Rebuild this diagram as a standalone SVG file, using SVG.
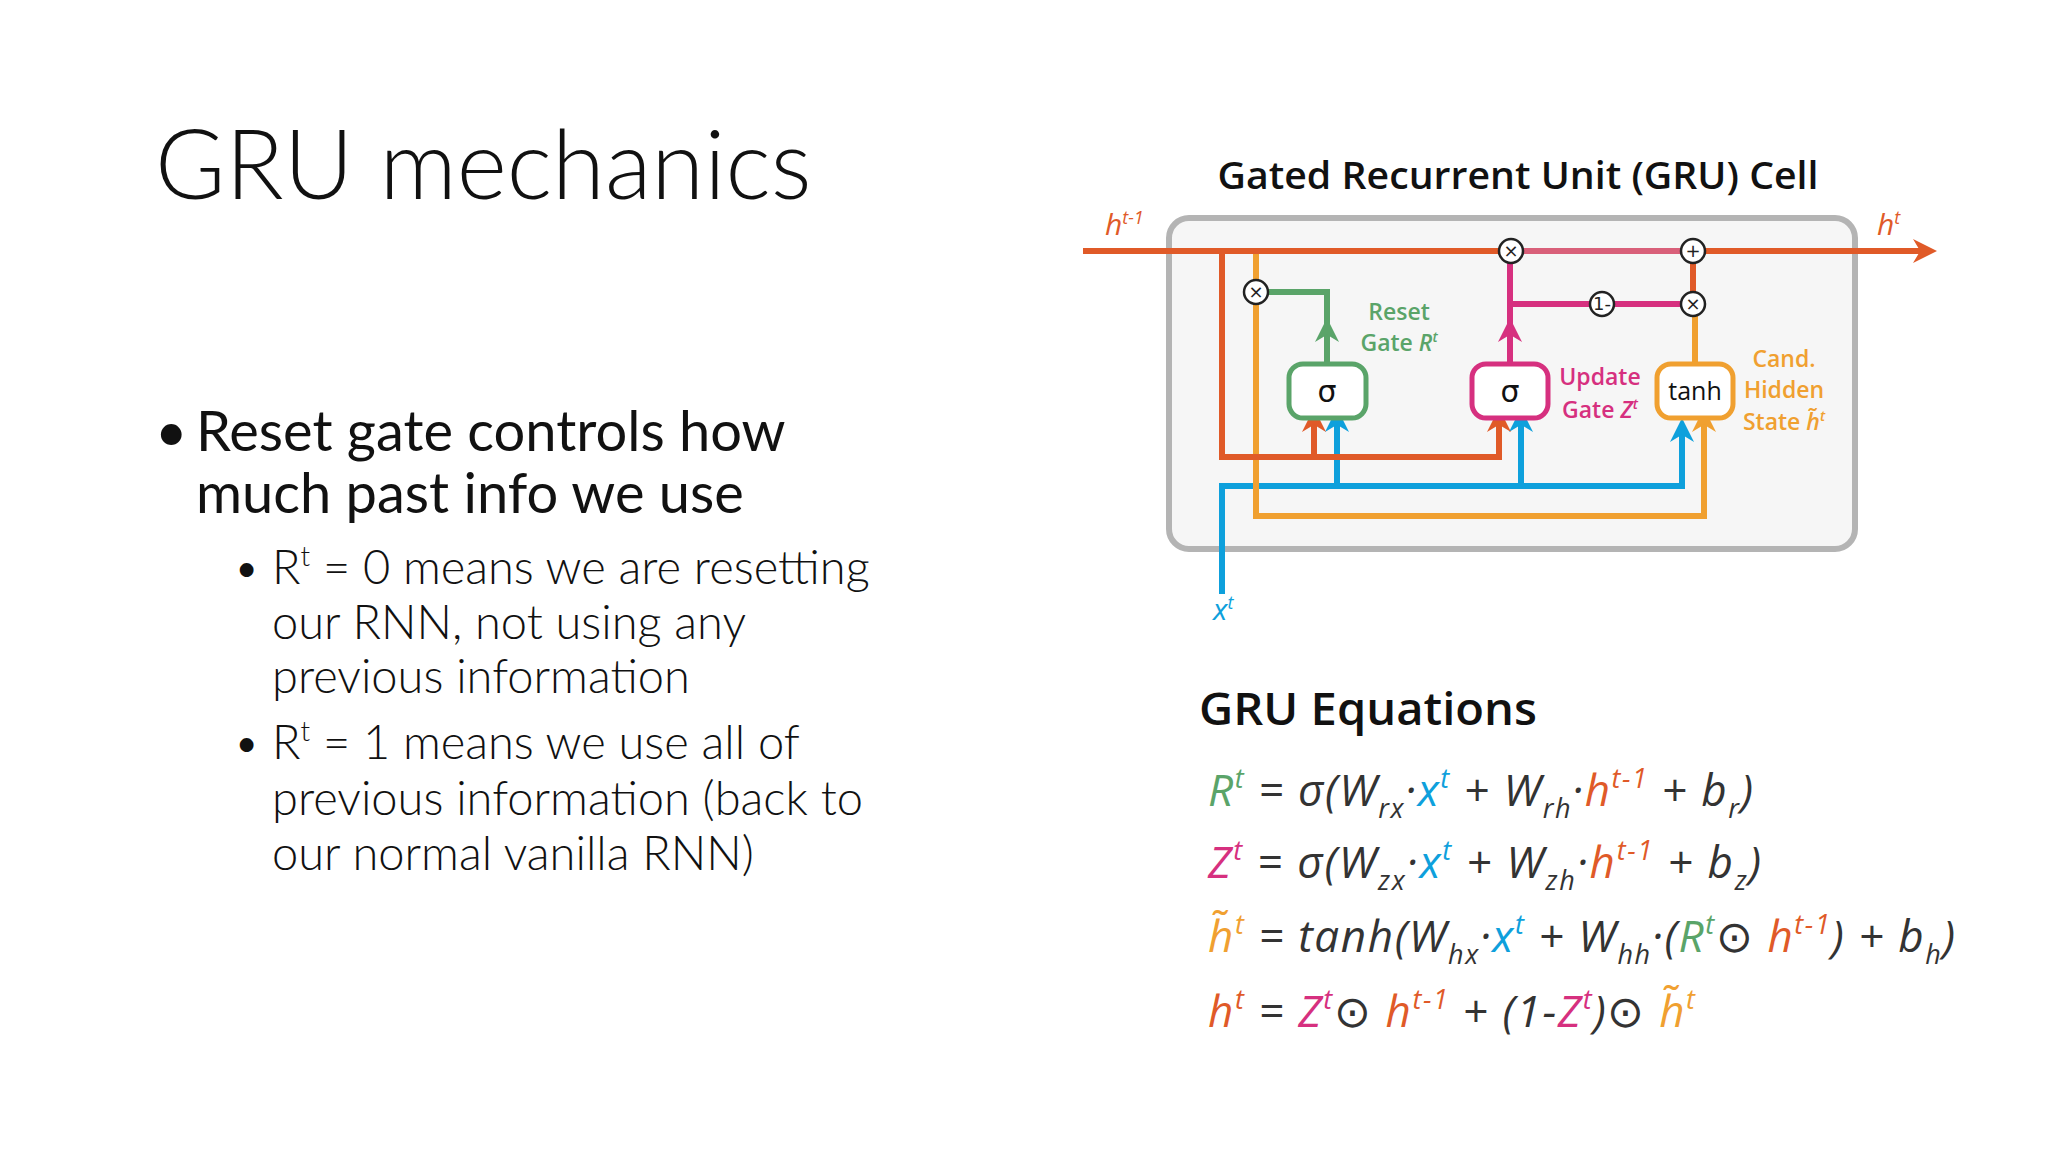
<svg xmlns="http://www.w3.org/2000/svg" width="2048" height="1152" viewBox="0 0 2048 1152">
<style>
.t{font-family:Lato,"Open Sans",sans-serif;fill:#111}
.c{fill:none;stroke-width:6}
.r{stroke:#e05a28}.o{stroke:#f0a030}.b{stroke:#0ea0dc}.g{stroke:#5aa469}.m{stroke:#d6307f}
.op{fill:#fff;stroke:#222;stroke-width:2.5}
.opt{font-family:"DejaVu Sans",sans-serif;font-size:18px;text-anchor:middle;fill:#222}
.lab{font-family:"Open Sans",sans-serif;font-size:23px;font-weight:600;text-anchor:middle}
.eq{font-family:"Open Sans",sans-serif;font-style:italic;font-size:44px;fill:#333}
.sup{font-size:27px}
</style>
<defs>
<marker id="ar" viewBox="0 0 10 10" refX="5" refY="5" markerWidth="4" markerHeight="4" orient="auto"><path d="M0,0L10,5L0,10L3,5z" fill="context-stroke"/></marker>
</defs>
<rect width="2048" height="1152" fill="#fff"/>
<text class="t" x="155" y="199" font-size="96" font-weight="300">GRU mechanics</text>
<g class="t" font-size="56">
<text x="155" y="451">•</text>
<text x="196" y="451">Reset gate controls how</text>
<text x="196" y="513">much past info we use</text>
</g>
<g class="t" font-size="47" font-weight="300">
<text x="233" y="584">•</text><text x="272" y="584">R<tspan dy="-18" font-size="28">t</tspan><tspan dy="18"> = 0 means we are resetting</tspan></text>
<text x="272" y="639">our RNN, not using any</text>
<text x="272" y="693">previous information</text>
<text x="233" y="759">•</text><text x="272" y="759">R<tspan dy="-18" font-size="28">t</tspan><tspan dy="18"> = 1 means we use all of</tspan></text>
<text x="272" y="815">previous information (back to</text>
<text x="272" y="870">our normal vanilla RNN)</text>
</g>
<text x="1518" y="189" font-family="Open Sans,sans-serif" font-weight="600" font-size="38" text-anchor="middle" fill="#111" textLength="601" lengthAdjust="spacingAndGlyphs">Gated Recurrent Unit (GRU) Cell</text>
<rect x="1169" y="218" width="686" height="331" rx="20" fill="#f6f6f6" stroke="#b4b4b4" stroke-width="6"/>
<g id="connectors">
<path class="c b" d="M1222,594V486H1682V430" marker-end="url(#ar)"/>
<path class="c b" d="M1337,486V420" marker-end="url(#ar)"/>
<path class="c b" d="M1521,486V420" marker-end="url(#ar)"/>
<path class="c o" d="M1256,251V516H1704V420" marker-end="url(#ar)"/>
<path class="c r" d="M1222,251V457H1499V420" marker-end="url(#ar)"/>
<path class="c r" d="M1314,457V420" marker-end="url(#ar)"/>
<path class="c g" d="M1327,364V292H1256"/>
<path class="c g" d="M1327,364V330" marker-end="url(#ar)"/>
<path class="c m" d="M1510,364V251M1510,304H1693"/>
<path class="c m" d="M1510,364V330" marker-end="url(#ar)"/>
<path class="c o" d="M1695,364V304"/>
<path class="c r" d="M1693,304V251"/>
<path class="c" stroke="#e05a28" stroke-width="7" d="M1083,251H1511"/>
<path class="c" stroke="#d9607a" stroke-width="7" d="M1511,251H1693"/>
<path class="c" stroke="#e05a28" stroke-width="7" d="M1693,251H1925" marker-end="url(#ar)"/>
</g>
<g id="opx1"><circle class="op" cx="1256" cy="292" r="12"/><text class="opt" x="1256" y="298">×</text></g>
<g id="opx2"><circle class="op" cx="1511" cy="251" r="12"/><text class="opt" x="1511" y="257">×</text></g>
<g id="opplus"><circle class="op" cx="1693" cy="251" r="12"/><text class="opt" x="1693" y="257">+</text></g>
<g id="opone"><circle class="op" cx="1602" cy="304" r="12"/><text class="opt" x="1602" y="310" font-size="15">1-</text></g>
<g id="opx3"><circle class="op" cx="1693" cy="304" r="12"/><text class="opt" x="1693" y="310">×</text></g>
<g id="reset"><rect x="1289" y="364" width="77" height="54" rx="14" fill="#fff" stroke="#5aa469" stroke-width="5"/><text x="1327" y="402" font-family="DejaVu Sans,sans-serif" font-size="30" text-anchor="middle" fill="#111">σ</text></g>
<g id="update"><rect x="1472" y="364" width="76" height="54" rx="14" fill="#fff" stroke="#d6307f" stroke-width="5"/><text x="1510" y="402" font-family="DejaVu Sans,sans-serif" font-size="30" text-anchor="middle" fill="#111">σ</text></g>
<g id="tanh"><rect x="1657" y="364" width="76" height="54" rx="14" fill="#fff" stroke="#f0a030" stroke-width="5"/><text x="1695" y="400" font-family="Open Sans,sans-serif" font-size="25" text-anchor="middle" fill="#111">tanh</text></g>
<g class="lab">
<text x="1399" y="320" fill="#5aa469">Reset</text>
<text x="1399" y="351" fill="#5aa469">Gate <tspan font-style="italic">R</tspan><tspan dy="-9" font-size="14" font-style="italic">t</tspan></text>
<text x="1600" y="385" fill="#d6307f">Update</text>
<text x="1600" y="418" fill="#d6307f">Gate <tspan font-style="italic">Z</tspan><tspan dy="-9" font-size="14" font-style="italic">t</tspan></text>
<text x="1784" y="367" fill="#f0a030">Cand.</text>
<text x="1784" y="398" fill="#f0a030">Hidden</text>
<text x="1784" y="430" fill="#f0a030">State <tspan font-style="italic">h̃</tspan><tspan dy="-9" font-size="14" font-style="italic">t</tspan></text>
</g>
<g font-family="Open Sans,sans-serif" font-style="italic" font-size="30">
<text x="1105" y="235" fill="#e05a28">h<tspan dy="-11" font-size="18">t-1</tspan></text>
<text x="1877" y="235" fill="#e05a28">h<tspan dy="-11" font-size="18">t</tspan></text>
<text x="1213" y="620" fill="#0ea0dc">x<tspan dy="-11" font-size="18">t</tspan></text>
</g>
<text x="1199" y="725" font-family="Open Sans,sans-serif" font-weight="600" font-size="46" fill="#111" textLength="338" lengthAdjust="spacingAndGlyphs">GRU Equations</text>
<g class="eq">
<text x="1208" y="806" textLength="545"><tspan fill="#5aa469">R</tspan><tspan class="sup" dy="-18" fill="#5aa469">t</tspan><tspan dy="18"> = σ(W</tspan><tspan class="sup" dy="12">rx</tspan><tspan dy="-12">·</tspan><tspan fill="#0ea0dc">x</tspan><tspan class="sup" dy="-18" fill="#0ea0dc">t</tspan><tspan dy="18"> + W</tspan><tspan class="sup" dy="12">rh</tspan><tspan dy="-12">·</tspan><tspan fill="#e05a28">h</tspan><tspan class="sup" dy="-18" fill="#e05a28">t-1</tspan><tspan dy="18"> + b</tspan><tspan class="sup" dy="12">r</tspan><tspan dy="-12">)</tspan></text>
<text x="1208" y="878" textLength="553"><tspan fill="#d6307f">Z</tspan><tspan class="sup" dy="-18" fill="#d6307f">t</tspan><tspan dy="18"> = σ(W</tspan><tspan class="sup" dy="12">zx</tspan><tspan dy="-12">·</tspan><tspan fill="#0ea0dc">x</tspan><tspan class="sup" dy="-18" fill="#0ea0dc">t</tspan><tspan dy="18"> + W</tspan><tspan class="sup" dy="12">zh</tspan><tspan dy="-12">·</tspan><tspan fill="#e05a28">h</tspan><tspan class="sup" dy="-18" fill="#e05a28">t-1</tspan><tspan dy="18"> + b</tspan><tspan class="sup" dy="12">z</tspan><tspan dy="-12">)</tspan></text>
<text x="1208" y="952" textLength="747"><tspan fill="#f0a030">h̃</tspan><tspan class="sup" dy="-18" fill="#f0a030">t</tspan><tspan dy="18"> = tanh(W</tspan><tspan class="sup" dy="12">hx</tspan><tspan dy="-12">·</tspan><tspan fill="#0ea0dc">x</tspan><tspan class="sup" dy="-18" fill="#0ea0dc">t</tspan><tspan dy="18"> + W</tspan><tspan class="sup" dy="12">hh</tspan><tspan dy="-12">·(</tspan><tspan fill="#5aa469">R</tspan><tspan class="sup" dy="-18" fill="#5aa469">t</tspan><tspan dy="18" font-style="normal">⊙</tspan><tspan fill="#e05a28"> h</tspan><tspan class="sup" dy="-18" fill="#e05a28">t-1</tspan><tspan dy="18">) + b</tspan><tspan class="sup" dy="12">h</tspan><tspan dy="-12">)</tspan></text>
<text x="1208" y="1027" textLength="487"><tspan fill="#e05a28">h</tspan><tspan class="sup" dy="-18" fill="#e05a28">t</tspan><tspan dy="18"> = </tspan><tspan fill="#d6307f">Z</tspan><tspan class="sup" dy="-18" fill="#d6307f">t</tspan><tspan dy="18" font-style="normal">⊙</tspan><tspan fill="#e05a28"> h</tspan><tspan class="sup" dy="-18" fill="#e05a28">t-1</tspan><tspan dy="18"> + (1-</tspan><tspan fill="#d6307f">Z</tspan><tspan class="sup" dy="-18" fill="#d6307f">t</tspan><tspan dy="18">)</tspan><tspan font-style="normal">⊙</tspan><tspan fill="#f0a030"> h̃</tspan><tspan class="sup" dy="-18" fill="#f0a030">t</tspan></text>
</g>
</svg>
